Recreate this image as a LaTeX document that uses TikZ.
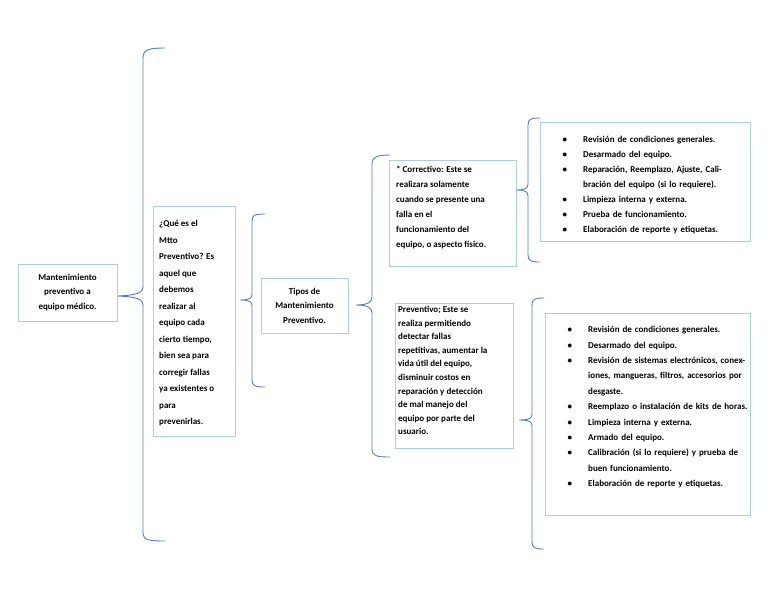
\documentclass[tikz,border=0pt]{standalone}
\usepackage{fontspec}
\setmainfont{Carlito}
\definecolor{bx}{RGB}{175,205,225}
\definecolor{br}{RGB}{85,125,185}
\newcommand{\itm}[1]{\par\hangindent=38pt\hangafter=1\noindent\makebox[22pt][r]{\textbullet}\hspace{16pt}#1}
\begin{document}
\begin{tikzpicture}[x=1pt,y=-1pt,
  box/.style={draw=bx,line width=0.8pt},
  txt/.style={font=\bfseries\fontsize{9}{15}\selectfont,inner sep=0pt,anchor=north west,align=left},
  brc/.style={draw=br,line width=0.9pt}]
\useasboundingbox (0,0) rectangle (768,594);
% boxes
\draw[box] (18,264) rectangle (117,321);
\node[font=\bfseries\fontsize{9}{14.5}\selectfont,align=center] (a) at (67.5,292.5) {Mantenimiento\\preventivo a\\equipo médico.};
\draw[box] (153,206) rectangle (235,436);
\node[txt,font=\bfseries\fontsize{9}{16.5}\selectfont] (b) at (159,220) {¿Qué es el\\Mtto\\Preventivo? Es\\aquel que\\debemos\\realizar al\\equipo cada\\cierto tiempo,\\bien sea para\\corregir fallas\\ya existentes o\\para\\prevenirlas.};
\draw[box] (261,278) rectangle (348,333);
\node[font=\bfseries\fontsize{9}{14.5}\selectfont,align=center] (c) at (304.5,305.5) {Tipos de\\Mantenimiento\\Preventivo.};
\draw[box] (389,160) rectangle (516,266);
\node[txt,font=\bfseries\fontsize{9}{15}\selectfont] (d) at (396,166) {* Correctivo: Este se\\realizara solamente\\cuando se presente una\\falla en el\\funcionamiento del\\equipo, o aspecto físico.};
\draw[box] (395,303) rectangle (513,448);
\node[txt,font=\bfseries\fontsize{9}{13.6}\selectfont] (e) at (398,306) {Preventivo; Este se\\realiza permitiendo\\detectar fallas\\repetitivas, aumentar la\\vida útil del equipo,\\disminuir costos en\\reparación y detección\\de mal manejo del\\equipo por parte del\\usuario.};
\draw[box] (540,122) rectangle (750,241);
\begin{scope}
\clip (540,122) rectangle (750,239);
\node[txt,text width=200pt] (f) at (545,127) {\itm{Revisión de condiciones generales.}\itm{Desarmado del equipo.}\itm{Reparación, Reemplazo, Ajuste, Calibración del equipo (si lo requiere).}\itm{Limpieza interna y externa.}\itm{Prueba de funcionamiento.}\itm{Elaboración de reporte y etiquetas.}};
\end{scope}
\draw[box] (545,313) rectangle (750,515);
\node[txt,text width=200pt,font=\bfseries\fontsize{9}{15.4}\selectfont] (g) at (550,317) {\itm{Revisión de condiciones generales.}\itm{Desarmado del equipo.}\itm{Revisión de sistemas electrónicos, conexiones, mangueras, filtros, accesorios por desgaste.}\itm{Reemplazo o instalación de kits de horas.}\itm{Limpieza interna y externa.}\itm{Armado del equipo.}\itm{Calibración (si lo requiere) y prueba de buen funcionamiento.}\itm{Elaboración de reporte y etiquetas.}};
% braces
\draw[brc] (165,48) .. controls (148,48) and (143,50) .. (143,58) -- (143,286) .. controls (143,293) and (138,295) .. (118,296) .. controls (138,297) and (143,299) .. (143,306) -- (143,532) .. controls (143,540) and (148,541) .. (165,541);
\draw[brc] (265,214) .. controls (255,214) and (252,215) .. (252,221) -- (252,294) .. controls (252,298) and (250,300) .. (240,300) .. controls (250,300) and (252,302) .. (252,306) -- (252,380) .. controls (252,386) and (255,387) .. (265,387);
\draw[brc] (390,155) .. controls (377,155) and (372,157) .. (372,164) -- (372,297) .. controls (372,302) and (368,305) .. (356,305) .. controls (368,305) and (372,308) .. (372,313) -- (372,449) .. controls (372,456) and (377,457) .. (390,457);
\draw[brc] (540,118) .. controls (531,118) and (528,119) .. (528,125) -- (528,184) .. controls (528,188) and (526,190) .. (516,190) .. controls (526,190) and (528,192) .. (528,196) -- (528,255) .. controls (528,261) and (531,262) .. (540,262);
\draw[brc] (544,298) .. controls (535,298) and (532,299) .. (532,306) -- (532,414) .. controls (532,418) and (530,420) .. (519,420) .. controls (530,420) and (532,422) .. (532,426) -- (532,541) .. controls (532,548) and (535,549) .. (544,549);
\end{tikzpicture}
\end{document}
